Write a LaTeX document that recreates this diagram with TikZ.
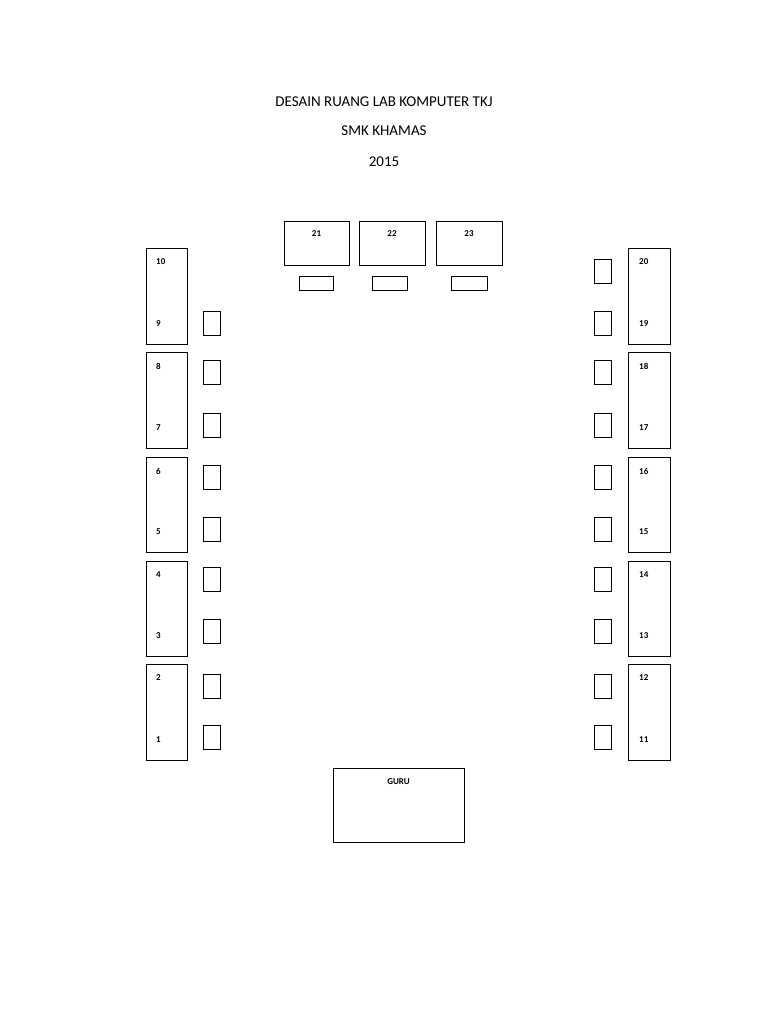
\documentclass[tikz,border=0pt]{standalone}
\usepackage{fontspec}
\setmainfont{Carlito}
\begin{document}
\begin{tikzpicture}[x=1pt,y=-1pt,
  box/.style={draw,line width=0.8pt},
  lab/.style={font=\fontsize{9}{10}\selectfont\bfseries,anchor=west,inner sep=0},
  ttl/.style={font=\fontsize{15}{18}\selectfont}]
\useasboundingbox (0,0) rectangle (768,1024);
\node[ttl] (t1) at (384,102) {DESAIN RUANG LAB KOMPUTER TKJ};
\node[ttl] (t2) at (384,131) {SMK KHAMAS};
\node[ttl] (t3) at (384,162) {2015};
% top tables
\foreach \a/\b/\c/\d/\n in {284/349/299/333/21,359/425/372/407/22,436/502/451/487/23}{
  \draw[box] (\a,221) rectangle (\b,265);
  \node[font=\fontsize{9}{10}\selectfont\bfseries] (tt\n) at ({(\a+\b)/2},234) {\n};
  \draw[box] (\c,276) rectangle (\d,290);
}
% side tables
\foreach \ya/\yb/\lt/\lb/\rt/\rb in {248/344/10/9/20/19,352/448/8/7/18/17,457/552/6/5/16/15,561/656/4/3/14/13,664/760/2/1/12/11}{
  \draw[box] (146,\ya) rectangle (187,\yb);
  \draw[box] (628,\ya) rectangle (670,\yb);
  \node[lab] (l\lt) at (156,\ya+14) {\lt};
  \node[lab] (l\lb) at (156,\yb-20) {\lb};
  \node[lab] (r\rt) at (639,\ya+14) {\rt};
  \node[lab] (r\rb) at (639,\yb-20) {\rb};
}
% chairs
\foreach \y in {323,372,425,477,529,579,631,686,737}{
  \draw[box] (203,\y-12) rectangle (220,\y+12);
  \draw[box] (594,\y-12) rectangle (611,\y+12);
}
\draw[box] (594,259) rectangle (611,283);
% guru
\draw[box] (333,768) rectangle (464,842);
\node[font=\fontsize{9}{10}\selectfont\bfseries] (guru) at (398.5,782) {GURU};
\end{tikzpicture}
\end{document}
